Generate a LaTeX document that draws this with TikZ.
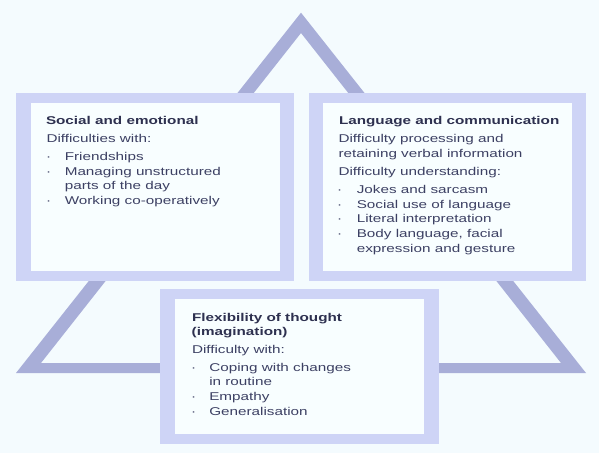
\documentclass[tikz,border=0pt]{standalone}
\usepackage{fontspec}
\setmainfont{Liberation Sans}[FakeStretch=1.35]
\definecolor{bgcol}{HTML}{F4FBFE}
\definecolor{innercol}{HTML}{F8FEFF}
\definecolor{bordercol}{HTML}{CED4F6}
\definecolor{tricol}{HTML}{A8AED8}
\definecolor{textcol}{HTML}{3C4063}
\definecolor{titlecol}{HTML}{2E3150}
\tikzset{
  outerbox/.style={fill=bordercol, draw=none, inner sep=0pt, outer sep=0pt, anchor=north west},
  innerbox/.style={fill=innercol, draw=none, inner sep=0pt, outer sep=0pt, anchor=north west},
  txt/.style={anchor=base west, inner sep=0pt, outer sep=0pt, text=textcol, font=\fontsize{11.3}{13}\selectfont},
  ttl/.style={txt, text=titlecol, font=\fontsize{11.3}{13}\selectfont\bfseries},
}
\begin{document}
\begin{tikzpicture}[x=1pt,y=-1pt]
\useasboundingbox (0,0) rectangle (599,453);
\fill[bgcol] (0,0) rectangle (599,453);
% triangle
\fill[tricol, even odd rule] (16,373) -- (301,12.7) -- (586,373) -- cycle
  (41,363) -- (301,33) -- (561,363) -- cycle;
% boxes
\node[outerbox, minimum width=278pt, minimum height=188.3pt] (Lo) at (16,92.7) {};
\node[innerbox, minimum width=249pt, minimum height=168.3pt] (Li) at (30.6,102.7) {};
\node[outerbox, minimum width=277.7pt, minimum height=188.3pt] (Ro) at (308.6,92.7) {};
\node[innerbox, minimum width=248.8pt, minimum height=168.3pt] (Ri) at (323,102.7) {};
\node[outerbox, minimum width=278.1pt, minimum height=155pt] (Bo) at (160.4,289.3) {};
\node[innerbox, minimum width=249pt, minimum height=135pt] (Bi) at (175,299.3) {};
% left box text
\node[ttl] (l1) at (46,124.5) {Social and emotional};
\node[txt] (l2) at (46.5,142) {Difficulties with:};
\node[txt] (lb1) at (46.2,160.3) {·};
\node[txt] (l3) at (64.8,160.3) {Friendships};
\node[txt] (lb2) at (46.2,175.1) {·};
\node[txt] (l4) at (64.8,175.1) {Managing unstructured};
\node[txt] (l5) at (64.8,189.9) {parts of the day};
\node[txt] (lb3) at (46.2,204.8) {·};
\node[txt] (l6) at (64.8,204.8) {Working co-operatively};
% right box text
\node[ttl] (r1) at (339,124.7) {Language and communication};
\node[txt] (r2) at (338.5,142.3) {Difficulty processing and};
\node[txt] (r3) at (338.5,157.3) {retaining verbal information};
\node[txt] (r4) at (338.5,175) {Difficulty understanding:};
\node[txt] (rb1) at (337.2,193.3) {·};
\node[txt] (r5) at (356.8,193.3) {Jokes and sarcasm};
\node[txt] (rb2) at (337.2,208) {·};
\node[txt] (r6) at (356.8,208) {Social use of language};
\node[txt] (rb3) at (337.2,222.7) {·};
\node[txt] (r7) at (356.8,222.7) {Literal interpretation};
\node[txt] (rb4) at (337.2,237.7) {·};
\node[txt] (r8) at (356.8,237.7) {Body language, facial};
\node[txt] (r9) at (356.8,252.7) {expression and gesture};
% bottom box text
\node[ttl] (b1) at (192,321.3) {Flexibility of thought};
\node[ttl] (b2) at (191.7,335) {(imagination)};
\node[txt] (b3) at (192,353) {Difficulty with:};
\node[txt] (bb1) at (191,371) {·};
\node[txt] (b4) at (209.3,371) {Coping with changes};
\node[txt] (b5) at (209.3,385.7) {in routine};
\node[txt] (bb2) at (191,400.7) {·};
\node[txt] (b6) at (209.3,400.7) {Empathy};
\node[txt] (bb3) at (191,415.3) {·};
\node[txt] (b7) at (209.3,415.3) {Generalisation};
\end{tikzpicture}
\end{document}
